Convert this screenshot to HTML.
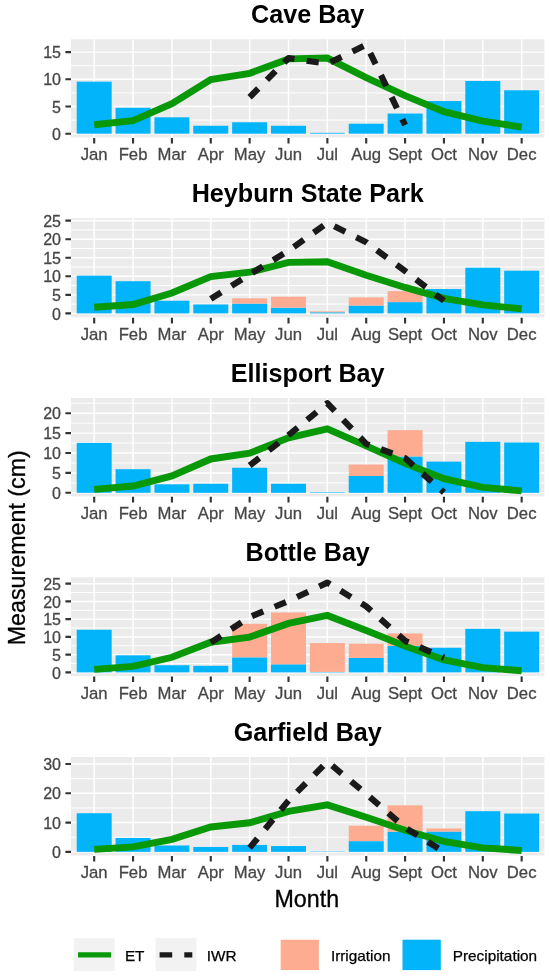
<!DOCTYPE html>
<html lang="en"><head><meta charset="utf-8"><title>Monthly water balance</title>
<style>html,body{margin:0;padding:0;background:#fff}svg{display:block;filter:blur(0.5px)}text{font-family:"Liberation Sans",sans-serif}.tk{font-size:16.7px;fill:#454545;stroke:#4D4D4D;stroke-width:0.3px}.tt{font-size:25.15px;font-weight:bold;fill:#000}.ax{font-size:23.25px;fill:#000;stroke:#000;stroke-width:0.3px}.lg{font-size:15.35px;fill:#000;stroke:#000;stroke-width:0.25px}</style></head><body>
<svg width="550" height="977" viewBox="0 0 550 977">
<rect width="550" height="977" fill="#fff"/>
<g>
<text class="tt" x="307.7" y="23.2" text-anchor="middle">Cave Bay</text>
<rect x="71.0" y="39.2" width="473.4" height="98.3" fill="#EBEBEB"/>
<path d="M71.0 120.10H544.4M71.0 92.90H544.4M71.0 65.70H544.4" stroke="#fff" stroke-width="1.0" fill="none"/>
<path d="M71.0 133.70H544.4M71.0 106.50H544.4M71.0 79.30H544.4M71.0 52.10H544.4M94.20 39.2V137.5M133.06 39.2V137.5M171.92 39.2V137.5M210.78 39.2V137.5M249.64 39.2V137.5M288.50 39.2V137.5M327.36 39.2V137.5M366.22 39.2V137.5M405.08 39.2V137.5M443.94 39.2V137.5M482.80 39.2V137.5M521.66 39.2V137.5" stroke="#fff" stroke-width="1.45" fill="none"/>
<rect x="76.71" y="81.64" width="34.97" height="52.06" fill="#02B4FA"/>
<rect x="115.57" y="107.75" width="34.97" height="25.95" fill="#02B4FA"/>
<rect x="154.43" y="117.33" width="34.97" height="16.37" fill="#02B4FA"/>
<rect x="193.29" y="125.76" width="34.97" height="7.94" fill="#02B4FA"/>
<rect x="232.15" y="122.28" width="34.97" height="11.42" fill="#02B4FA"/>
<rect x="271.01" y="125.76" width="34.97" height="7.94" fill="#02B4FA"/>
<rect x="309.87" y="132.88" width="34.97" height="0.82" fill="#02B4FA"/>
<rect x="348.73" y="123.74" width="34.97" height="9.96" fill="#02B4FA"/>
<rect x="387.59" y="113.57" width="34.97" height="20.13" fill="#02B4FA"/>
<rect x="426.45" y="101.06" width="34.97" height="32.64" fill="#02B4FA"/>
<rect x="465.31" y="80.99" width="34.97" height="52.71" fill="#02B4FA"/>
<rect x="504.17" y="90.29" width="34.97" height="43.41" fill="#02B4FA"/>
<polyline points="94.20,124.72 133.06,120.64 171.92,103.78 210.78,79.63 249.64,73.32 288.50,58.90 327.36,58.08 366.22,77.67 405.08,95.62 443.94,111.67 482.80,121.19 521.66,127.06" fill="none" stroke="#089808" stroke-width="6.9" stroke-linejoin="miter"/>
<polyline points="249.64,97.25 288.50,58.08 327.36,63.80 366.22,44.76 405.08,125.00" fill="none" stroke="#1a1a1a" stroke-width="6.2" stroke-linejoin="round" stroke-dasharray="12.25 12.25"/>
<path d="M65.4 133.70H71.0M65.4 106.50H71.0M65.4 79.30H71.0M65.4 52.10H71.0M94.20 137.9V143.6M133.06 137.9V143.6M171.92 137.9V143.6M210.78 137.9V143.6M249.64 137.9V143.6M288.50 137.9V143.6M327.36 137.9V143.6M366.22 137.9V143.6M405.08 137.9V143.6M443.94 137.9V143.6M482.80 137.9V143.6M521.66 137.9V143.6" stroke="#333333" stroke-width="2.1" fill="none"/>
<text class="tk" x="61.0" y="139.8" text-anchor="end" style="font-size:16.0px">0</text>
<text class="tk" x="61.0" y="112.6" text-anchor="end" style="font-size:16.0px">5</text>
<text class="tk" x="61.0" y="85.4" text-anchor="end" style="font-size:16.0px">10</text>
<text class="tk" x="61.0" y="58.2" text-anchor="end" style="font-size:16.0px">15</text>
<text class="tk" x="94.20" y="160.0" text-anchor="middle">Jan</text>
<text class="tk" x="133.06" y="160.0" text-anchor="middle">Feb</text>
<text class="tk" x="171.92" y="160.0" text-anchor="middle">Mar</text>
<text class="tk" x="210.78" y="160.0" text-anchor="middle">Apr</text>
<text class="tk" x="249.64" y="160.0" text-anchor="middle">May</text>
<text class="tk" x="288.50" y="160.0" text-anchor="middle">Jun</text>
<text class="tk" x="327.36" y="160.0" text-anchor="middle">Jul</text>
<text class="tk" x="366.22" y="160.0" text-anchor="middle">Aug</text>
<text class="tk" x="405.08" y="160.0" text-anchor="middle">Sept</text>
<text class="tk" x="443.94" y="160.0" text-anchor="middle">Oct</text>
<text class="tk" x="482.80" y="160.0" text-anchor="middle">Nov</text>
<text class="tk" x="521.66" y="160.0" text-anchor="middle">Dec</text>
</g>
<g>
<text class="tt" x="307.7" y="202.3" text-anchor="middle">Heyburn State Park</text>
<rect x="71.0" y="218.3" width="473.4" height="99.0" fill="#EBEBEB"/>
<path d="M71.0 304.12H544.4M71.0 285.57H544.4M71.0 267.02H544.4M71.0 248.47H544.4M71.0 229.92H544.4" stroke="#fff" stroke-width="1.0" fill="none"/>
<path d="M71.0 313.40H544.4M71.0 294.85H544.4M71.0 276.30H544.4M71.0 257.75H544.4M71.0 239.20H544.4M71.0 220.65H544.4M94.20 218.3V317.3M133.06 218.3V317.3M171.92 218.3V317.3M210.78 218.3V317.3M249.64 218.3V317.3M288.50 218.3V317.3M327.36 218.3V317.3M366.22 218.3V317.3M405.08 218.3V317.3M443.94 218.3V317.3M482.80 218.3V317.3M521.66 218.3V317.3" stroke="#fff" stroke-width="1.45" fill="none"/>
<rect x="76.71" y="275.67" width="34.97" height="37.73" fill="#02B4FA"/>
<rect x="115.57" y="281.20" width="34.97" height="32.20" fill="#02B4FA"/>
<rect x="154.43" y="300.75" width="34.97" height="12.65" fill="#02B4FA"/>
<rect x="193.29" y="304.46" width="34.97" height="8.94" fill="#02B4FA"/>
<rect x="232.15" y="303.61" width="34.97" height="9.79" fill="#02B4FA"/>
<rect x="232.15" y="298.34" width="34.97" height="5.27" fill="#FDAC92"/>
<rect x="271.01" y="307.69" width="34.97" height="5.71" fill="#02B4FA"/>
<rect x="271.01" y="296.67" width="34.97" height="11.02" fill="#FDAC92"/>
<rect x="309.87" y="312.29" width="34.97" height="1.11" fill="#02B4FA"/>
<rect x="309.87" y="311.36" width="34.97" height="0.93" fill="#FDAC92"/>
<rect x="348.73" y="305.57" width="34.97" height="7.83" fill="#02B4FA"/>
<rect x="348.73" y="297.41" width="34.97" height="8.16" fill="#FDAC92"/>
<rect x="387.59" y="302.12" width="34.97" height="11.28" fill="#02B4FA"/>
<rect x="387.59" y="291.10" width="34.97" height="11.02" fill="#FDAC92"/>
<rect x="426.45" y="289.06" width="34.97" height="24.34" fill="#02B4FA"/>
<rect x="465.31" y="267.73" width="34.97" height="45.67" fill="#02B4FA"/>
<rect x="504.17" y="270.70" width="34.97" height="42.70" fill="#02B4FA"/>
<polyline points="94.20,307.28 133.06,304.50 171.92,293.00 210.78,276.52 249.64,272.22 288.50,262.39 327.36,261.83 366.22,275.19 405.08,287.43 443.94,298.37 482.80,304.87 521.66,308.87" fill="none" stroke="#089808" stroke-width="6.9" stroke-linejoin="miter"/>
<polyline points="210.78,298.93 249.64,274.44 288.50,250.70 327.36,222.88 366.22,242.17 405.08,271.11 443.94,300.79" fill="none" stroke="#1a1a1a" stroke-width="6.2" stroke-linejoin="round" stroke-dasharray="12.25 12.25"/>
<path d="M65.4 313.40H71.0M65.4 294.85H71.0M65.4 276.30H71.0M65.4 257.75H71.0M65.4 239.20H71.0M65.4 220.65H71.0M94.20 317.7V323.4M133.06 317.7V323.4M171.92 317.7V323.4M210.78 317.7V323.4M249.64 317.7V323.4M288.50 317.7V323.4M327.36 317.7V323.4M366.22 317.7V323.4M405.08 317.7V323.4M443.94 317.7V323.4M482.80 317.7V323.4M521.66 317.7V323.4" stroke="#333333" stroke-width="2.1" fill="none"/>
<text class="tk" x="61.0" y="319.5" text-anchor="end" style="font-size:16.0px">0</text>
<text class="tk" x="61.0" y="300.9" text-anchor="end" style="font-size:16.0px">5</text>
<text class="tk" x="61.0" y="282.4" text-anchor="end" style="font-size:16.0px">10</text>
<text class="tk" x="61.0" y="263.9" text-anchor="end" style="font-size:16.0px">15</text>
<text class="tk" x="61.0" y="245.3" text-anchor="end" style="font-size:16.0px">20</text>
<text class="tk" x="61.0" y="226.7" text-anchor="end" style="font-size:16.0px">25</text>
<text class="tk" x="94.20" y="339.8" text-anchor="middle">Jan</text>
<text class="tk" x="133.06" y="339.8" text-anchor="middle">Feb</text>
<text class="tk" x="171.92" y="339.8" text-anchor="middle">Mar</text>
<text class="tk" x="210.78" y="339.8" text-anchor="middle">Apr</text>
<text class="tk" x="249.64" y="339.8" text-anchor="middle">May</text>
<text class="tk" x="288.50" y="339.8" text-anchor="middle">Jun</text>
<text class="tk" x="327.36" y="339.8" text-anchor="middle">Jul</text>
<text class="tk" x="366.22" y="339.8" text-anchor="middle">Aug</text>
<text class="tk" x="405.08" y="339.8" text-anchor="middle">Sept</text>
<text class="tk" x="443.94" y="339.8" text-anchor="middle">Oct</text>
<text class="tk" x="482.80" y="339.8" text-anchor="middle">Nov</text>
<text class="tk" x="521.66" y="339.8" text-anchor="middle">Dec</text>
</g>
<g>
<text class="tt" x="307.7" y="382.0" text-anchor="middle">Ellisport Bay</text>
<rect x="71.0" y="398.0" width="473.4" height="98.4" fill="#EBEBEB"/>
<path d="M71.0 482.85H544.4M71.0 462.95H544.4M71.0 443.05H544.4M71.0 423.15H544.4M71.0 403.25H544.4" stroke="#fff" stroke-width="1.0" fill="none"/>
<path d="M71.0 492.80H544.4M71.0 472.90H544.4M71.0 453.00H544.4M71.0 433.10H544.4M71.0 413.20H544.4M94.20 398.0V496.4M133.06 398.0V496.4M171.92 398.0V496.4M210.78 398.0V496.4M249.64 398.0V496.4M288.50 398.0V496.4M327.36 398.0V496.4M366.22 398.0V496.4M405.08 398.0V496.4M443.94 398.0V496.4M482.80 398.0V496.4M521.66 398.0V496.4" stroke="#fff" stroke-width="1.45" fill="none"/>
<rect x="76.71" y="442.93" width="34.97" height="49.87" fill="#02B4FA"/>
<rect x="115.57" y="469.20" width="34.97" height="23.60" fill="#02B4FA"/>
<rect x="154.43" y="484.32" width="34.97" height="8.48" fill="#02B4FA"/>
<rect x="193.29" y="483.77" width="34.97" height="9.03" fill="#02B4FA"/>
<rect x="232.15" y="467.77" width="34.97" height="25.03" fill="#02B4FA"/>
<rect x="271.01" y="483.77" width="34.97" height="9.03" fill="#02B4FA"/>
<rect x="309.87" y="492.24" width="34.97" height="0.56" fill="#02B4FA"/>
<rect x="348.73" y="475.96" width="34.97" height="16.84" fill="#02B4FA"/>
<rect x="348.73" y="464.54" width="34.97" height="11.42" fill="#FDAC92"/>
<rect x="387.59" y="456.46" width="34.97" height="36.34" fill="#02B4FA"/>
<rect x="387.59" y="430.19" width="34.97" height="26.27" fill="#FDAC92"/>
<rect x="426.45" y="461.64" width="34.97" height="31.16" fill="#02B4FA"/>
<rect x="465.31" y="441.86" width="34.97" height="50.94" fill="#02B4FA"/>
<rect x="504.17" y="442.53" width="34.97" height="50.27" fill="#02B4FA"/>
<polyline points="94.20,489.42 133.06,486.03 171.92,475.88 210.78,458.97 249.64,453.20 288.50,437.88 327.36,428.92 366.22,445.84 405.08,463.35 443.94,478.67 482.80,487.43 521.66,490.89" fill="none" stroke="#089808" stroke-width="6.9" stroke-linejoin="miter"/>
<polyline points="249.64,465.54 288.50,435.09 327.36,403.25 366.22,443.85 405.08,458.17 443.94,492.40" fill="none" stroke="#1a1a1a" stroke-width="6.2" stroke-linejoin="round" stroke-dasharray="12.25 12.25"/>
<path d="M65.4 492.80H71.0M65.4 472.90H71.0M65.4 453.00H71.0M65.4 433.10H71.0M65.4 413.20H71.0M94.20 496.8V502.5M133.06 496.8V502.5M171.92 496.8V502.5M210.78 496.8V502.5M249.64 496.8V502.5M288.50 496.8V502.5M327.36 496.8V502.5M366.22 496.8V502.5M405.08 496.8V502.5M443.94 496.8V502.5M482.80 496.8V502.5M521.66 496.8V502.5" stroke="#333333" stroke-width="2.1" fill="none"/>
<text class="tk" x="61.0" y="498.9" text-anchor="end" style="font-size:16.0px">0</text>
<text class="tk" x="61.0" y="479.0" text-anchor="end" style="font-size:16.0px">5</text>
<text class="tk" x="61.0" y="459.1" text-anchor="end" style="font-size:16.0px">10</text>
<text class="tk" x="61.0" y="439.2" text-anchor="end" style="font-size:16.0px">15</text>
<text class="tk" x="61.0" y="419.3" text-anchor="end" style="font-size:16.0px">20</text>
<text class="tk" x="94.20" y="518.9" text-anchor="middle">Jan</text>
<text class="tk" x="133.06" y="518.9" text-anchor="middle">Feb</text>
<text class="tk" x="171.92" y="518.9" text-anchor="middle">Mar</text>
<text class="tk" x="210.78" y="518.9" text-anchor="middle">Apr</text>
<text class="tk" x="249.64" y="518.9" text-anchor="middle">May</text>
<text class="tk" x="288.50" y="518.9" text-anchor="middle">Jun</text>
<text class="tk" x="327.36" y="518.9" text-anchor="middle">Jul</text>
<text class="tk" x="366.22" y="518.9" text-anchor="middle">Aug</text>
<text class="tk" x="405.08" y="518.9" text-anchor="middle">Sept</text>
<text class="tk" x="443.94" y="518.9" text-anchor="middle">Oct</text>
<text class="tk" x="482.80" y="518.9" text-anchor="middle">Nov</text>
<text class="tk" x="521.66" y="518.9" text-anchor="middle">Dec</text>
</g>
<g>
<text class="tt" x="307.7" y="561.3" text-anchor="middle">Bottle Bay</text>
<rect x="71.0" y="577.3" width="473.4" height="98.7" fill="#EBEBEB"/>
<path d="M71.0 663.52H544.4M71.0 645.77H544.4M71.0 628.02H544.4M71.0 610.27H544.4M71.0 592.52H544.4" stroke="#fff" stroke-width="1.0" fill="none"/>
<path d="M71.0 672.40H544.4M71.0 654.65H544.4M71.0 636.90H544.4M71.0 619.15H544.4M71.0 601.40H544.4M71.0 583.65H544.4M94.20 577.3V676.0M133.06 577.3V676.0M171.92 577.3V676.0M210.78 577.3V676.0M249.64 577.3V676.0M288.50 577.3V676.0M327.36 577.3V676.0M366.22 577.3V676.0M405.08 577.3V676.0M443.94 577.3V676.0M482.80 577.3V676.0M521.66 577.3V676.0" stroke="#fff" stroke-width="1.45" fill="none"/>
<rect x="76.71" y="629.73" width="34.97" height="42.67" fill="#02B4FA"/>
<rect x="115.57" y="655.32" width="34.97" height="17.08" fill="#02B4FA"/>
<rect x="154.43" y="665.23" width="34.97" height="7.17" fill="#02B4FA"/>
<rect x="193.29" y="665.80" width="34.97" height="6.60" fill="#02B4FA"/>
<rect x="232.15" y="657.35" width="34.97" height="15.05" fill="#02B4FA"/>
<rect x="232.15" y="623.84" width="34.97" height="33.51" fill="#FDAC92"/>
<rect x="271.01" y="664.31" width="34.97" height="8.09" fill="#02B4FA"/>
<rect x="271.01" y="612.48" width="34.97" height="51.83" fill="#FDAC92"/>
<rect x="309.87" y="671.97" width="34.97" height="0.43" fill="#02B4FA"/>
<rect x="309.87" y="643.04" width="34.97" height="28.93" fill="#FDAC92"/>
<rect x="348.73" y="657.92" width="34.97" height="14.48" fill="#02B4FA"/>
<rect x="348.73" y="643.72" width="34.97" height="14.20" fill="#FDAC92"/>
<rect x="387.59" y="645.85" width="34.97" height="26.55" fill="#02B4FA"/>
<rect x="387.59" y="633.42" width="34.97" height="12.42" fill="#FDAC92"/>
<rect x="426.45" y="647.76" width="34.97" height="24.64" fill="#02B4FA"/>
<rect x="465.31" y="628.81" width="34.97" height="43.59" fill="#02B4FA"/>
<rect x="504.17" y="631.65" width="34.97" height="40.75" fill="#02B4FA"/>
<polyline points="94.20,669.38 133.06,666.37 171.92,657.31 210.78,642.23 249.64,637.08 288.50,623.41 327.36,615.42 366.22,630.51 405.08,646.13 443.94,659.80 482.80,667.61 521.66,670.70" fill="none" stroke="#089808" stroke-width="6.9" stroke-linejoin="miter"/>
<polyline points="210.78,642.58 249.64,617.02 288.50,601.04 327.36,582.59 366.22,606.37 405.08,640.80 443.94,657.67" fill="none" stroke="#1a1a1a" stroke-width="6.2" stroke-linejoin="round" stroke-dasharray="12.25 12.25"/>
<path d="M65.4 672.40H71.0M65.4 654.65H71.0M65.4 636.90H71.0M65.4 619.15H71.0M65.4 601.40H71.0M65.4 583.65H71.0M94.20 676.4V682.1M133.06 676.4V682.1M171.92 676.4V682.1M210.78 676.4V682.1M249.64 676.4V682.1M288.50 676.4V682.1M327.36 676.4V682.1M366.22 676.4V682.1M405.08 676.4V682.1M443.94 676.4V682.1M482.80 676.4V682.1M521.66 676.4V682.1" stroke="#333333" stroke-width="2.1" fill="none"/>
<text class="tk" x="61.0" y="678.5" text-anchor="end" style="font-size:16.0px">0</text>
<text class="tk" x="61.0" y="660.8" text-anchor="end" style="font-size:16.0px">5</text>
<text class="tk" x="61.0" y="643.0" text-anchor="end" style="font-size:16.0px">10</text>
<text class="tk" x="61.0" y="625.2" text-anchor="end" style="font-size:16.0px">15</text>
<text class="tk" x="61.0" y="607.5" text-anchor="end" style="font-size:16.0px">20</text>
<text class="tk" x="61.0" y="589.8" text-anchor="end" style="font-size:16.0px">25</text>
<text class="tk" x="94.20" y="698.5" text-anchor="middle">Jan</text>
<text class="tk" x="133.06" y="698.5" text-anchor="middle">Feb</text>
<text class="tk" x="171.92" y="698.5" text-anchor="middle">Mar</text>
<text class="tk" x="210.78" y="698.5" text-anchor="middle">Apr</text>
<text class="tk" x="249.64" y="698.5" text-anchor="middle">May</text>
<text class="tk" x="288.50" y="698.5" text-anchor="middle">Jun</text>
<text class="tk" x="327.36" y="698.5" text-anchor="middle">Jul</text>
<text class="tk" x="366.22" y="698.5" text-anchor="middle">Aug</text>
<text class="tk" x="405.08" y="698.5" text-anchor="middle">Sept</text>
<text class="tk" x="443.94" y="698.5" text-anchor="middle">Oct</text>
<text class="tk" x="482.80" y="698.5" text-anchor="middle">Nov</text>
<text class="tk" x="521.66" y="698.5" text-anchor="middle">Dec</text>
</g>
<g>
<text class="tt" x="307.7" y="741.0" text-anchor="middle">Garfield Bay</text>
<rect x="71.0" y="757.0" width="473.4" height="98.5" fill="#EBEBEB"/>
<path d="M71.0 837.22H544.4M71.0 807.95H544.4M71.0 778.68H544.4" stroke="#fff" stroke-width="1.0" fill="none"/>
<path d="M71.0 851.85H544.4M71.0 822.58H544.4M71.0 793.31H544.4M71.0 764.04H544.4M94.20 757.0V855.5M133.06 757.0V855.5M171.92 757.0V855.5M210.78 757.0V855.5M249.64 757.0V855.5M288.50 757.0V855.5M327.36 757.0V855.5M366.22 757.0V855.5M405.08 757.0V855.5M443.94 757.0V855.5M482.80 757.0V855.5M521.66 757.0V855.5" stroke="#fff" stroke-width="1.45" fill="none"/>
<rect x="76.71" y="813.24" width="34.97" height="38.61" fill="#02B4FA"/>
<rect x="115.57" y="837.95" width="34.97" height="13.90" fill="#02B4FA"/>
<rect x="154.43" y="845.50" width="34.97" height="6.35" fill="#02B4FA"/>
<rect x="193.29" y="846.96" width="34.97" height="4.89" fill="#02B4FA"/>
<rect x="232.15" y="844.91" width="34.97" height="6.94" fill="#02B4FA"/>
<rect x="271.01" y="846.08" width="34.97" height="5.77" fill="#02B4FA"/>
<rect x="309.87" y="851.50" width="34.97" height="0.35" fill="#02B4FA"/>
<rect x="348.73" y="841.14" width="34.97" height="10.71" fill="#02B4FA"/>
<rect x="348.73" y="825.71" width="34.97" height="15.43" fill="#FDAC92"/>
<rect x="387.59" y="831.68" width="34.97" height="20.17" fill="#02B4FA"/>
<rect x="387.59" y="805.34" width="34.97" height="26.34" fill="#FDAC92"/>
<rect x="426.45" y="831.54" width="34.97" height="20.31" fill="#02B4FA"/>
<rect x="426.45" y="828.46" width="34.97" height="3.07" fill="#FDAC92"/>
<rect x="465.31" y="811.19" width="34.97" height="40.66" fill="#02B4FA"/>
<rect x="504.17" y="813.54" width="34.97" height="38.31" fill="#02B4FA"/>
<polyline points="94.20,849.36 133.06,846.87 171.92,839.41 210.78,826.97 249.64,822.73 288.50,811.46 327.36,804.87 366.22,817.31 405.08,830.19 443.94,841.46 482.80,847.90 521.66,850.45" fill="none" stroke="#089808" stroke-width="6.9" stroke-linejoin="miter"/>
<polyline points="249.64,847.90 288.50,800.63 327.36,761.70 366.22,793.90 405.08,827.56 443.94,851.85" fill="none" stroke="#1a1a1a" stroke-width="6.2" stroke-linejoin="round" stroke-dasharray="12.25 12.25"/>
<path d="M65.4 851.85H71.0M65.4 822.58H71.0M65.4 793.31H71.0M65.4 764.04H71.0M94.20 855.9V861.6M133.06 855.9V861.6M171.92 855.9V861.6M210.78 855.9V861.6M249.64 855.9V861.6M288.50 855.9V861.6M327.36 855.9V861.6M366.22 855.9V861.6M405.08 855.9V861.6M443.94 855.9V861.6M482.80 855.9V861.6M521.66 855.9V861.6" stroke="#333333" stroke-width="2.1" fill="none"/>
<text class="tk" x="61.0" y="858.0" text-anchor="end" style="font-size:16.0px">0</text>
<text class="tk" x="61.0" y="828.7" text-anchor="end" style="font-size:16.0px">10</text>
<text class="tk" x="61.0" y="799.4" text-anchor="end" style="font-size:16.0px">20</text>
<text class="tk" x="61.0" y="770.1" text-anchor="end" style="font-size:16.0px">30</text>
<text class="tk" x="94.20" y="878.0" text-anchor="middle">Jan</text>
<text class="tk" x="133.06" y="878.0" text-anchor="middle">Feb</text>
<text class="tk" x="171.92" y="878.0" text-anchor="middle">Mar</text>
<text class="tk" x="210.78" y="878.0" text-anchor="middle">Apr</text>
<text class="tk" x="249.64" y="878.0" text-anchor="middle">May</text>
<text class="tk" x="288.50" y="878.0" text-anchor="middle">Jun</text>
<text class="tk" x="327.36" y="878.0" text-anchor="middle">Jul</text>
<text class="tk" x="366.22" y="878.0" text-anchor="middle">Aug</text>
<text class="tk" x="405.08" y="878.0" text-anchor="middle">Sept</text>
<text class="tk" x="443.94" y="878.0" text-anchor="middle">Oct</text>
<text class="tk" x="482.80" y="878.0" text-anchor="middle">Nov</text>
<text class="tk" x="521.66" y="878.0" text-anchor="middle">Dec</text>
</g>
<text class="ax" x="306.8" y="906.8" text-anchor="middle">Month</text>
<text class="ax" transform="translate(25.1 547.7) rotate(-90)" text-anchor="middle">Measurement (cm)</text>
<g>
<rect x="73.8" y="938.2" width="40.8" height="32.8" fill="#F2F2F2"/>
<path d="M78 954.8H111.1" stroke="#089808" stroke-width="5.2"/>
<text class="lg" x="124.9" y="960.7">ET</text>
<rect x="155.6" y="938.2" width="40.8" height="32.8" fill="#F2F2F2"/>
<path d="M159.6 954.8H192.3" stroke="#1a1a1a" stroke-width="5.2" stroke-dasharray="12.6 12.1"/>
<text class="lg" x="206.7" y="960.7">IWR</text>
<rect x="280.7" y="939.7" width="38.2" height="30.4" fill="#FDAC92"/>
<text class="lg" x="330.9" y="960.7">Irrigation</text>
<rect x="402.5" y="939.7" width="38.3" height="30.4" fill="#02B4FA"/>
<text class="lg" x="452.7" y="960.7">Precipitation</text>
</g>
</svg></body></html>
